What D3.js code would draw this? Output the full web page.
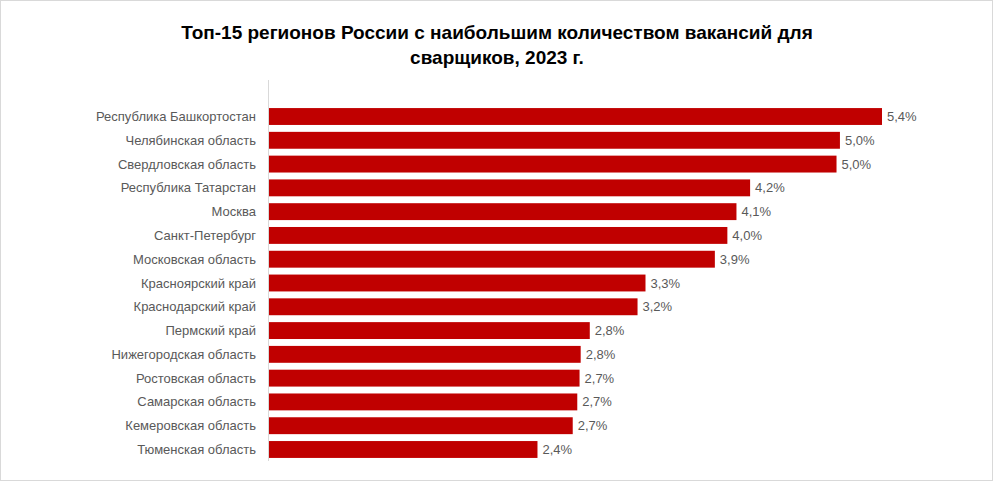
<!DOCTYPE html>
<html><head><meta charset="utf-8">
<script src="https://d3js.org/d3.v7.min.js"></script>
<style>body{margin:0;background:#fff}</style></head>
<body><svg id="c" width="993" height="481"></svg>
<script>
const regions=["Республика Башкортостан","Челябинская область","Свердловская область","Республика Татарстан","Москва","Санкт-Петербург","Московская область","Красноярский край","Краснодарский край","Пермский край","Нижегородская область","Ростовская область","Самарская область","Кемеровская область","Тюменская область"];
const values=[5.4,5.03,5.0,4.24,4.12,4.04,3.93,3.32,3.25,2.83,2.75,2.74,2.72,2.68,2.37];
const labels=["5,4%","5,0%","5,0%","4,2%","4,1%","4,0%","3,9%","3,3%","3,2%","2,8%","2,8%","2,7%","2,7%","2,7%","2,4%"];
const svg=d3.select("#c");
svg.append("rect").attr("x",0.5).attr("y",0.5).attr("width",992).attr("height",480).attr("fill","#fff").attr("stroke","#d9d9d9");
svg.append("text").attr("x",497).attr("y",39).attr("text-anchor","middle").attr("font-family","Arial, Liberation Sans").attr("font-weight","bold").attr("font-size",19).text("Топ-15 регионов России с наибольшим количеством вакансий для");
svg.append("text").attr("x",497).attr("y",64).attr("text-anchor","middle").attr("font-family","Arial, Liberation Sans").attr("font-weight","bold").attr("font-size",19).text("сварщиков, 2023 г.");
const x=d3.scaleLinear().domain([0,5.4]).range([268,882]);
const y=d3.scaleBand().domain(regions).range([104.5,461.5]).paddingInner(0.29).paddingOuter(0.15);
const g=svg.append("g").attr("font-family","Arial, Liberation Sans").attr("font-size",13).attr("fill","#595959");
g.selectAll("rect.b").data(regions).join("rect").attr("class","b").attr("x",x(0)).attr("y",d=>y(d)).attr("height",y.bandwidth()).attr("width",(d,i)=>x(values[i])-x(0)).attr("fill","#c00000");
g.selectAll("text.v").data(regions).join("text").attr("class","v").attr("x",(d,i)=>x(values[i])+5).attr("y",d=>y(d)+y.bandwidth()/2).attr("dy","0.35em").text((d,i)=>labels[i]);
g.selectAll("text.c").data(regions).join("text").attr("class","c").attr("x",256).attr("y",d=>y(d)+y.bandwidth()/2).attr("dy","0.35em").attr("text-anchor","end").text(d=>d);
svg.append("line").attr("x1",268.5).attr("x2",268.5).attr("y1",80).attr("y2",461).attr("stroke","#d9d9d9");
</script></body></html>
